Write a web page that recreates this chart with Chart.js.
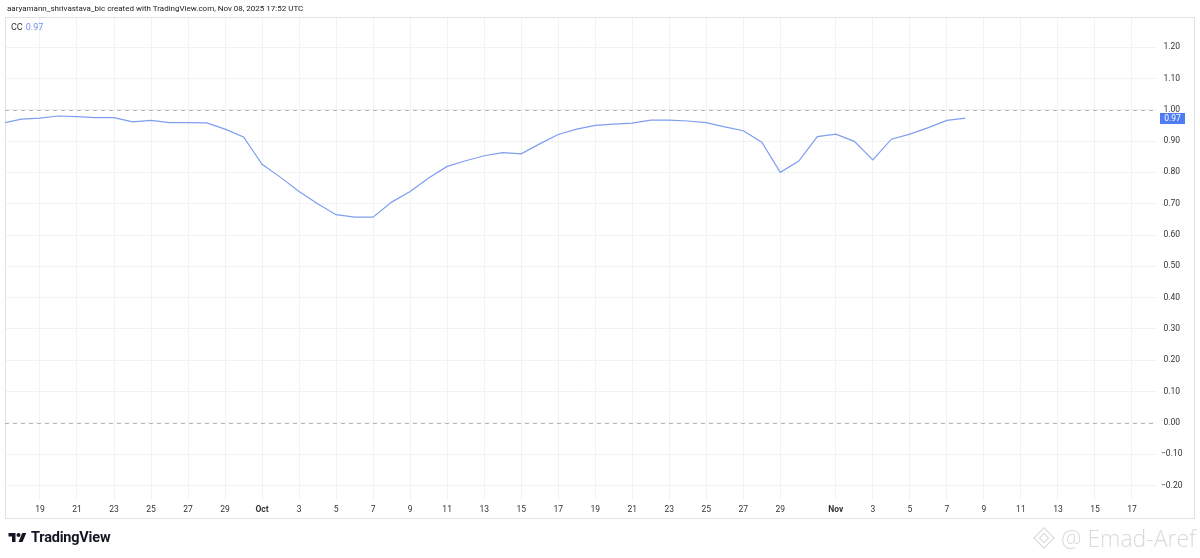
<!DOCTYPE html>
<html>
<head>
<meta charset="utf-8">
<title>CC</title>
<script src="https://cdn.jsdelivr.net/npm/chart.js@4.4.1/dist/chart.umd.min.js"></script>
<style>
html, body { margin: 0; padding: 0; background: #fff; }
#wrap { position: relative; width: 1200px; height: 558px; overflow: hidden; font-family: Roboto, "Liberation Sans", sans-serif; }
#chart { position: absolute; left: 0; top: 0; }
#header { position: absolute; left: 7px; top: 4px; font-size: 8px; color: #222; white-space: nowrap; }
#legend { position: absolute; left: 11px; top: 22px; font-size: 9px; color: #333; }
#legend span { color: #6d8ff0; margin-left: 3px; }
#logo { position: absolute; left: 8px; top: 529px; display: flex; align-items: center; font-size: 14.5px; font-weight: bold; color: #131722; letter-spacing: -0.2px; }
#logo svg { margin-right: 4px; }
#mark { position: absolute; right: 4px; top: 522px; display: flex; align-items: center; font-family: "Open Sans", sans-serif; font-weight: 300; font-size: 23px; color: #dadada; white-space: nowrap; }
#mark svg { margin-right: 5px; }
</style>
</head>
<body>
<div id="wrap">
  <canvas id="chart" width="1200" height="558"></canvas>
  <div id="header">aaryamann_shrivastava_bic created with TradingView.com, Nov 08, 2025 17:52 UTC</div>
  <div id="legend">CC<span>0.97</span></div>
  <div id="logo">
    <svg width="19" height="14" viewBox="0 0 36 28"><path fill="#131722" d="M14 22H7V11H0V4h14v18z"/><circle fill="#131722" cx="20" cy="8" r="4"/><path fill="#131722" d="M28 22h-8l7.5-18h8L28 22z"/></svg>
    TradingView
  </div>
  <div id="mark">
    <svg width="24" height="24" viewBox="0 0 26 26"><path d="M13 2 L24 13 L13 24 L2 13 Z" fill="none" stroke="#dadada" stroke-width="1.2"/><path d="M13 8 L18 13 L13 18 L8 13 Z" fill="none" stroke="#dadada" stroke-width="1.2"/></svg>
    @ Emad-Aref
  </div>
</div>
<script>
// valeurs (une par jour)
const dates = [
  '2025-09-17','2025-09-18','2025-09-19','2025-09-20','2025-09-21','2025-09-22','2025-09-23',
  '2025-09-24','2025-09-25','2025-09-26','2025-09-27','2025-09-28','2025-09-29','2025-09-30',
  '2025-10-01','2025-10-02','2025-10-03','2025-10-04','2025-10-05','2025-10-06','2025-10-07',
  '2025-10-08','2025-10-09','2025-10-10','2025-10-11','2025-10-12','2025-10-13','2025-10-14',
  '2025-10-15','2025-10-16','2025-10-17','2025-10-18','2025-10-19','2025-10-20','2025-10-21',
  '2025-10-22','2025-10-23','2025-10-24','2025-10-25','2025-10-26','2025-10-27','2025-10-28',
  '2025-10-29','2025-10-30','2025-10-31','2025-11-01','2025-11-02','2025-11-03','2025-11-04',
  '2025-11-05','2025-11-06','2025-11-07','2025-11-08'
];
const ccValues = [
  0.957, 0.970, 0.973, 0.980, 0.978, 0.975, 0.975,
  0.961, 0.966, 0.959, 0.959, 0.958, 0.938, 0.913,
  0.826, 0.784, 0.739, 0.700, 0.665, 0.657, 0.657,
  0.705, 0.739, 0.782, 0.819, 0.837, 0.853, 0.863,
  0.859, 0.891, 0.921, 0.938, 0.950, 0.954, 0.957,
  0.967, 0.967, 0.964, 0.959, 0.945, 0.933, 0.896,
  0.800, 0.836, 0.914, 0.922, 0.899, 0.840, 0.906,
  0.922, 0.943, 0.966, 0.973
];

// graduations de l'axe du temps (jours depuis le 19 sept.)
const tickDays = [0, 2, 4, 6, 8, 10, 12, 14, 16, 18, 20, 22, 24, 26, 28, 30, 32, 34, 36, 38, 40, 43, 45, 47, 49, 51, 53, 55, 57, 59];
const tickLabels = ['19','21','23','25','27','29','Oct','3','5','7','9','11','13','15','17','19','21','23','25','27','29','Nov','3','5','7','9','11','13','15','17'];
const yTicks = [-0.2, -0.1, 0, 0.1, 0.2, 0.3, 0.4, 0.5, 0.6, 0.7, 0.8, 0.9, 1.0, 1.1, 1.2];
const refLevels = [1.0, 0.0];

const DAY0 = Date.UTC(2025, 8, 19);
const dayIndex = (s) => {
  const [y, m, d] = s.split('-').map(Number);
  return (Date.UTC(y, m - 1, d) - DAY0) / 86400000;
};
const points = dates.map((s, i) => ({ x: dayIndex(s), y: ccValues[i] }));

const fmt = (v) => (v < 0 ? '\u2212' : '') + Math.abs(v).toFixed(2);

// lignes pointillees + etiquette de prix + cadre
const overlay = {
  id: 'overlay',
  beforeDatasetsDraw(chart) {
    const { ctx, chartArea: a } = chart;
    const ys = chart.scales.y;
    ctx.save();
    ctx.strokeStyle = '#e3e3e3';
    ctx.lineWidth = 1;
    ctx.strokeRect(a.left + 0.5, a.top + 0.5, 1194 - a.left, 518 - a.top);
    ctx.strokeStyle = '#b4b7bd';
    ctx.setLineDash([4, 4]);
    refLevels.forEach((lv) => {
      const y = Math.round(ys.getPixelForValue(lv)) + 0.5;
      ctx.beginPath();
      ctx.moveTo(a.left, y);
      ctx.lineTo(a.right, y);
      ctx.stroke();
    });
    ctx.restore();
  },
  afterDraw(chart) {
    const { ctx, chartArea: a } = chart;
    const last = ccValues[ccValues.length - 1];
    const y = chart.scales.y.getPixelForValue(last);
    ctx.save();
    ctx.fillStyle = '#4d7cf4';
    ctx.fillRect(a.right + 4, Math.round(y) - 5, 25, 11);
    ctx.fillStyle = '#fff';
    ctx.font = '8.5px Roboto';
    ctx.textAlign = 'center';
    ctx.textBaseline = 'middle';
    ctx.fillText(fmt(last), a.right + 16.5, Math.round(y) + 1);
    ctx.restore();
  }
};

new Chart(document.getElementById('chart'), {
  type: 'line',
  data: {
    datasets: [{
      label: 'CC',
      data: points,
      borderColor: '#7f9ef0',
      borderWidth: 1.2,
      pointRadius: 0,
      tension: 0,
      fill: false
    }]
  },
  options: {
    responsive: false,
    animation: false,
    layout: { padding: { left: 5, top: 17, right: 0, bottom: 40 } },
    plugins: { legend: { display: false }, tooltip: { enabled: false } },
    scales: {
      x: {
        type: 'linear',
        min: -1.89,
        max: 60.3,
        afterBuildTicks: (s) => { s.ticks = tickDays.map((v) => ({ value: v })); },
        afterFit: (s) => { s.height = 18; },
        grid: { color: '#f1f2f4', drawTicks: false },
        border: { display: false },
        ticks: {
          autoSkip: false,
          maxRotation: 0,
          padding: 5,
          color: '#333',
          font: (c) => ({ family: 'Roboto', size: 8.5, weight: isNaN(+tickLabels[c.index]) ? 'bold' : 'normal' }),
          callback: (v, i) => tickLabels[i]
        }
      },
      y: {
        position: 'right',
        min: -0.246,
        max: 1.296,
        afterBuildTicks: (s) => { s.ticks = yTicks.map((v) => ({ value: v })); },
        afterFit: (s) => { s.width = 44; },
        grid: { color: '#f1f2f4', drawTicks: false },
        border: { display: false },
        ticks: {
          padding: 5,
          crossAlign: 'center',
          color: '#333',
          font: { family: 'Roboto', size: 8.5 },
          callback: (v) => fmt(v)
        }
      }
    }
  },
  plugins: [overlay]
});
</script>
</body>
</html>
